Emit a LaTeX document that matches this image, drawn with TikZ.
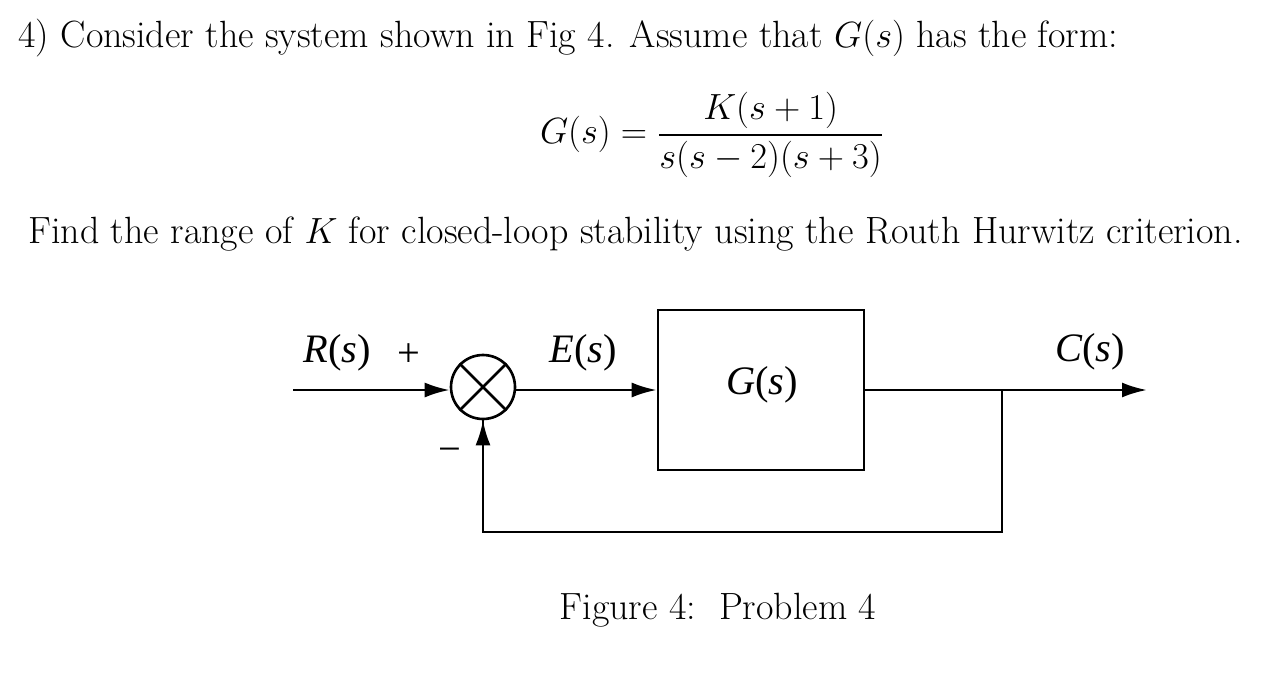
\documentclass[tikz,border=0pt]{standalone}
\usepackage{amsmath}
\usepackage{fontspec}
\newfontfamily\blockfont{Liberation Serif}
\usetikzlibrary{positioning, calc, arrows.meta}

\begin{document}
\begin{tikzpicture}[x=0.02cm, y=-0.02cm, font=\fontsize{21.6}{26}\selectfont]
  \tikzstyle{sig}=[line width=1.5pt, -{Latex[length=0.5cm, width=0.3cm]}]
  \tikzstyle{wire}=[line width=1.5pt]
  \tikzstyle{lbl}=[font=\blockfont\fontsize{23}{26}\selectfont, inner sep=0pt]
  \useasboundingbox (0,0) rectangle (1276,700);
  % problem text
  \node[anchor=west, inner sep=0pt] (q) at (18,38) {4) Consider the system shown in Fig 4. Assume that $G(s)$ has the form:};
  \node[inner sep=0pt] (eq) at (712,135) {$\displaystyle G(s) = \frac{K(s+1)}{s(s-2)(s+3)}$};
  \node[anchor=west, inner sep=0pt] (find) at (28,234) {Find the range of $K$ for closed-loop stability using the Routh Hurwitz criterion.};

  % block diagram
  \node[draw, circle, wire, minimum size=1.28cm, inner sep=0pt] (sum) at (483,387) {};
  \draw[wire] (sum.north west) -- (sum.south east);
  \draw[wire] (sum.north east) -- (sum.south west);
  \node[draw, wire, minimum width=4.12cm, minimum height=3.2cm, inner sep=0pt] (plant) at (761,390) {};
  \node[lbl] (g) at (762,385) {\textit{G}(\textit{s})};
  \coordinate (in) at (293,390);
  \coordinate (out) at (1147,390);
  \coordinate (branch) at (1002,390);
  \coordinate (fb) at (1002,532);

  \draw[sig] (in) -- (in -| sum.west);
  \draw[sig] (sum.east |- in) -- (plant.west |- in);
  \draw[sig] (plant.east |- out) -- (out);
  \draw[wire] (branch) -- (fb) -| (sum.south);
  \draw[sig] ($(sum.south)+(0,40)$) -- (sum.south);

  \node[lbl] (r) at (337,353) {\textit{R}(\textit{s})};
  \node[lbl] (plus) at (409,355) {+};
  \node[lbl] (minus) at (450,455) {\textminus};
  \node[lbl] (e) at (583,353) {\textit{E}(\textit{s})};
  \node[lbl] (c) at (1090,352) {\textit{C}(\textit{s})};

  \node[inner sep=0pt] (cap) at (718,610) {Figure 4:\ \ Problem 4};
\end{tikzpicture}
\end{document}
